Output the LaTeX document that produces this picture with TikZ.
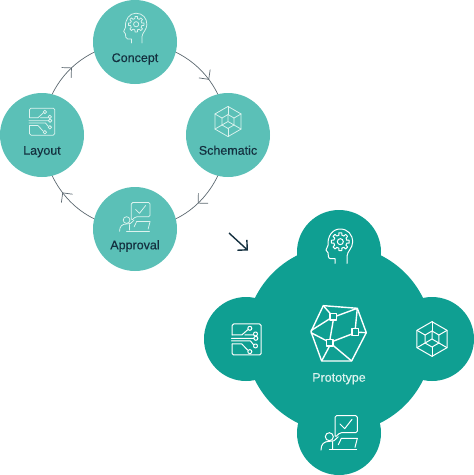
\documentclass[tikz,border=0pt]{standalone}
\usepackage{fontspec}
\setmainfont{Liberation Sans}
\newfontfamily\capfont[FakeBold=0.25]{Liberation Sans}
\usetikzlibrary{arrows.meta,decorations.markings}
\definecolor{lightteal}{HTML}{5BC0B7}
\definecolor{darkteal}{HTML}{0F9F92}
\definecolor{inkblue}{HTML}{14303F}
\definecolor{ringgrey}{HTML}{5C6870}
\definecolor{softline}{HTML}{DDF3EF}
\tikzset{
  lightdisc/.style={circle,fill=lightteal,minimum size=84pt,inner sep=0pt,outer sep=0pt},
  darkdisc/.style={circle,fill=darkteal,minimum size=84pt,inner sep=0pt,outer sep=0pt},
  coredisc/.style={circle,fill=darkteal,minimum size=187pt,inner sep=0pt,outer sep=0pt},
  caption/.style={font=\capfont\fontsize{12.5}{14}\selectfont,text=inkblue,inner sep=0pt,anchor=base},
  ringarc/.style={draw=ringgrey,line width=.7pt,looseness=.88,postaction={decorate},
    decoration={markings,mark=at position #1 with {\arrow{Straight Barb[length=7pt,width=14pt,line width=.7pt]}}}},
  smallicon/.style={draw=softline,line width=.75pt,line join=round,line cap=round},
  bigicon/.style={draw=white,line width=1pt,line join=round,line cap=round},
  pics/headicon/.style={code={
    \begin{scope}[x=.3333pt,y=-.3333pt,shift={(-417,-108)}]
      \draw[pic actions] (405,160)--(405,146)--(392,146) .. controls (384,146) and (385,136) .. (384,128)
        --(378,120)--(384,106) .. controls (382,78) and (398,57) .. (420,57)
        .. controls (444,57) and (458,74) .. (458,96) .. controls (458,114) and (442,124) .. (441,138)--(441,160);
      \begin{scope}[shift={(421,95)}]
        \foreach \a in {0,45,...,315}
          \draw[pic actions] (\a-13:20)--(\a-9:27)--(\a+9:27)--(\a+13:20)--(\a+32:20);
        \draw[pic actions] (0,0) circle[radius=9];
      \end{scope}
    \end{scope}
  }},
  pics/cubeicon/.style={code={
    \begin{scope}[x=.3333pt,y=-.3333pt]
      \draw[pic actions] (90:52)--(30:52)--(-30:52)--(-90:52)--(-150:52)--(150:52)--cycle;
      \draw[pic actions] (90:24)--(30:24)--(-30:24)--(-90:24)--(-150:24)--(150:24)--cycle;
      \draw[pic actions] (0,0)--(-90:24) (0,0)--(30:24) (0,0)--(150:24);
      \foreach \a in {90,30,-30,-90,-150,150}
        \draw[pic actions] (\a:24)--(\a:52);
    \end{scope}
  }},
  pics/circuiticon/.style={code={
    \begin{scope}[x=.3333pt,y=-.3333pt]
      \draw[pic actions,rounded corners=1.5pt] (-43,-13)--(-43,-46)--(44,-46)--(44,47)--(-43,47)--(-43,14);
      \draw[pic actions] (-43,-13)--(-14,-13)--(4,-29);
      \draw[pic actions] (-43,14)--(-14,14)--(4,33);
      \draw[pic actions] (-45,-3)--(22,-3) (-45,5)--(12,5)--(21,16) (-5,-13)--(21,-13);
      \foreach \p in {(10,-33),(27,-16),(28,-3),(27,20),(10,37)}
        \draw[pic actions] \p circle[radius=6];
    \end{scope}
  }},
  pics/approvalicon/.style={code={
    \begin{scope}[x=.3333pt,y=-.3333pt,shift={(-417,-668)}]
      \draw[pic actions,rounded corners=1.5pt] (405,682)--(405,617)--(472,617)--(472,668)--(420,668)--cycle;
      \draw[pic actions] (420,642)--(434,656)--(456,628);
      \draw[pic actions] (388,680) circle[radius=12];
      \draw[pic actions] (363,720) .. controls (363,702) and (372,694) .. (388,694)--(402,692)--(415,680)
        (398,696)--(398,716);
      \draw[pic actions] (415,704)--(424,685)--(472,685)--(465,712);
      \draw[pic actions] (388,719)--(470,719);
    \end{scope}
  }}
}
\begin{document}
\begin{tikzpicture}[x=1pt,y=-1pt]
\useasboundingbox (0,0) rectangle (474,475);
% cycle
\node[lightdisc] (concept) at (135,42) {};
\node[lightdisc] (layout) at (42,135) {};
\node[lightdisc] (schematic) at (228,135) {};
\node[lightdisc] (approval) at (135,229) {};
\draw[ringarc=.72] (concept.-14) to[out=-26,in=116] (schematic.104);
\draw[ringarc=.56] (schematic.-104) to[out=244,in=26] (approval.14);
\draw[ringarc=.68] (approval.166) to[out=154,in=296] (layout.-76);
\draw[ringarc=.55] (layout.76) to[out=64,in=206] (concept.194);
\node[caption] (conceptlabel) at (135,62) {Concept};
\node[caption] (layoutlabel) at (42,154.7) {Layout};
\node[caption] (schematiclabel) at (228,154.7) {Schematic};
\node[caption] (approvallabel) at (135,249.3) {Approval};
\pic[smallicon,scale=.87] at (135,28) {headicon};
\pic[smallicon,scale=.87] at (228,121.5) {cubeicon};
\pic[smallicon,scale=.87] at (42,121.5) {circuiticon};
\pic[smallicon,scale=.84] at (134.7,216.7) {approvalicon};
% transition arrow
\coordinate (arrowstart) at (229,233);
\coordinate (arrowend) at (248,250.5);
\draw[draw=inkblue,line width=1.4pt,-{Straight Barb[length=7pt,width=14pt,line width=1.4pt]}] (arrowstart) -- (arrowend);
% prototype blob
\node[coredisc] (core) at (339,339) {};
\node[darkdisc] (top) at (339,252) {};
\node[darkdisc] (left) at (246,339) {};
\node[darkdisc] (right) at (432,339) {};
\node[darkdisc] (bottom) at (339,433) {};
\pic[bigicon] at (339,246) {headicon};
\pic[bigicon] at (432,339) {cubeicon};
\pic[bigicon] at (246.5,339.3) {circuiticon};
\pic[bigicon] at (339,432.7) {approvalicon};
\node[caption,text=softline] (prototypelabel) at (339,381.7) {Prototype};
% polyhedron
\begin{scope}[x=.3333pt,y=-.3333pt,shift={(600,630)},line width=1.4pt,line join=round]
  \draw[white] (370,287)--(472,295)--(499,368)--(455,453)--(365,453)--(333,365)--cycle;
  \draw[white] (370,287)--(392,312) (472,295)--(410,318) (472,295)--(466,356) (499,368)--(476,367)
    (333,362)--(390,326) (333,368)--(379,392) (389,408)--(365,453) (399,406)--(455,453)
    (399,394)--(456,372) (400,330)--(390,388);
  \foreach \c in {(400,320),(466,366),(389,398)}
    \draw[white] \c ++(-10,-10) rectangle ++(20,20);
\end{scope}
\end{tikzpicture}
\end{document}
